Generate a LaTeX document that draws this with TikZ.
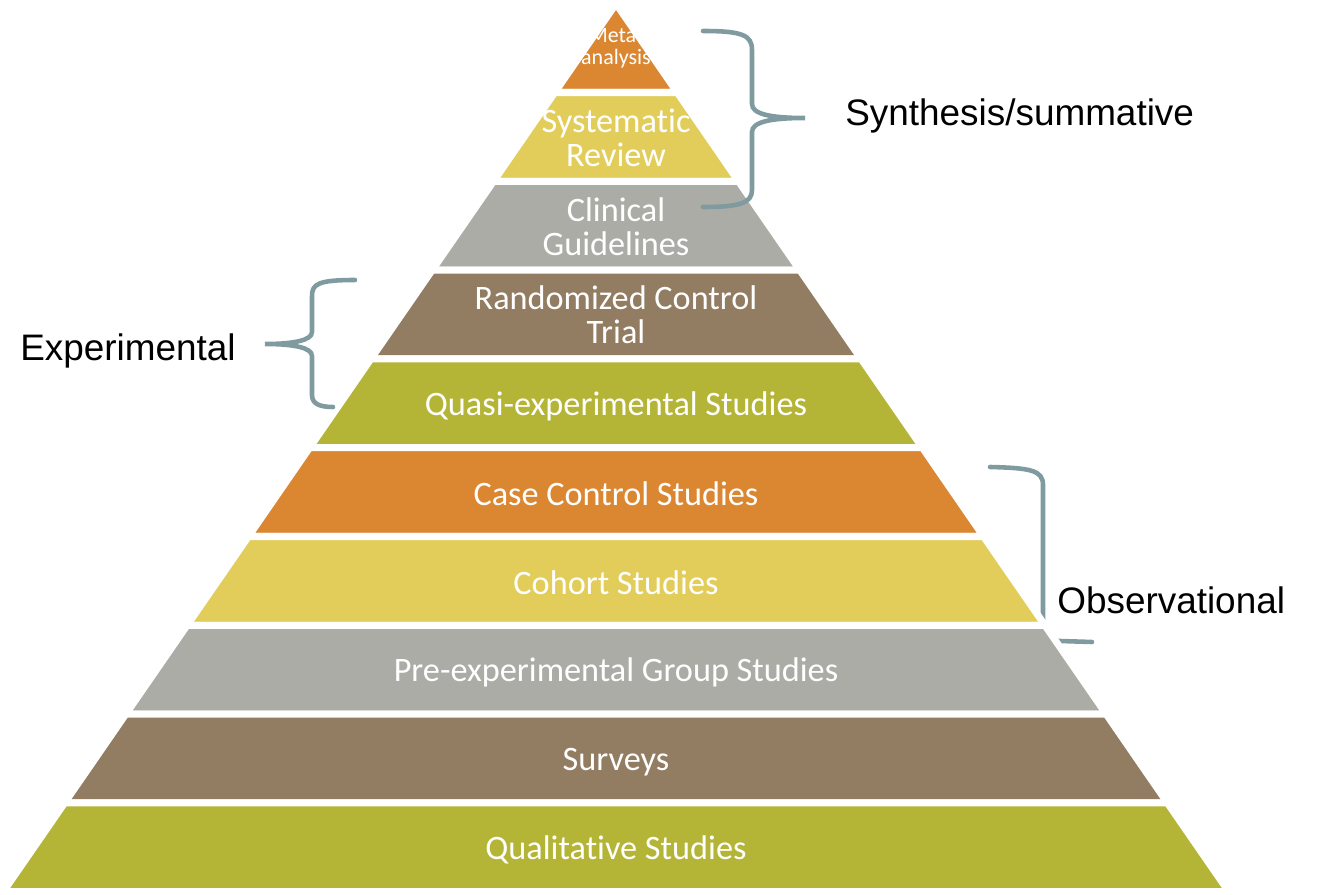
\documentclass[tikz,border=0pt]{standalone}
\usepackage{fontspec}
\setmainfont{Carlito}[Ligatures=NoCommon]
\newfontfamily\lblfont{Liberation Sans}
\usetikzlibrary{positioning}
\definecolor{orng}{RGB}{219,135,50}
\definecolor{ylw}{RGB}{226,205,90}
\definecolor{gry}{RGB}{171,172,166}
\definecolor{brwn}{RGB}{146,124,98}
\definecolor{olv}{RGB}{180,180,55}
\definecolor{brccol}{RGB}{127,155,160}

\begin{document}
\begin{tikzpicture}[x=0.02cm, y=-0.02cm, lay/.style={draw=white, line width=4pt, line join=miter},
		txt/.style={text=white, align=center, inner sep=0pt, font=\fontsize{19.5}{19.5}\selectfont},
		smalltxt/.style={text=white, align=center, inner sep=0pt, font=\fontsize{12.5}{12.5}\selectfont},
		lbl/.style={anchor=base west, inner sep=0pt, font=\lblfont\fontsize{21}{25}\selectfont},
		brc/.style={draw=brccol, line width=2.6pt, line cap=round}]
	\useasboundingbox (0,0) rectangle (1329,895);
	\draw[brc] (990,467) .. controls (1030,468) and (1043,470) .. (1043,485) -- (1043,628) .. controls (1043,636) and (1050,641) .. (1060,641) -- (1092,642);
	\filldraw[lay, fill=orng] (616,3.7) -- (677.3,92.5) -- (554.7,92.5) -- cycle;
	\filldraw[lay, fill=ylw] (554.7,92.5) -- (677.3,92.5) -- (738.5,181.3) -- (493.5,181.3) -- cycle;
	\filldraw[lay, fill=gry] (493.5,181.3) -- (738.5,181.3) -- (799.8,270.1) -- (432.2,270.1) -- cycle;
	\filldraw[lay, fill=brwn] (432.2,270.1) -- (799.8,270.1) -- (861.1,358.9) -- (370.9,358.9) -- cycle;
	\filldraw[lay, fill=olv] (370.9,358.9) -- (861.1,358.9) -- (922.4,447.7) -- (309.6,447.7) -- cycle;
	\filldraw[lay, fill=orng] (309.6,447.7) -- (922.4,447.7) -- (983.6,536.5) -- (248.4,536.5) -- cycle;
	\filldraw[lay, fill=ylw] (248.4,536.5) -- (983.6,536.5) -- (1044.9,625.3) -- (187.1,625.3) -- cycle;
	\filldraw[lay, fill=gry] (187.1,625.3) -- (1044.9,625.3) -- (1106.2,714.1) -- (125.8,714.1) -- cycle;
	\filldraw[lay, fill=brwn] (125.8,714.1) -- (1106.2,714.1) -- (1167.4,802.9) -- (64.6,802.9) -- cycle;
	\filldraw[lay, fill=olv] (64.6,802.9) -- (1167.4,802.9) -- (1228.7,891.7) -- (3.3,891.7) -- cycle;
	\draw[brc] (703,31) .. controls (742,31) and (752,35) .. (752,50) -- (752,104) .. controls (752,114) and (770,118) .. (805,118) .. controls (770,118) and (752,122) .. (752,132) -- (752,190) .. controls (752,203) and (740,207) .. (703,207);
	\draw[brc] (355,280) .. controls (318,280) and (312,284) .. (312,296) -- (312,332) .. controls (312,340) and (295,344) .. (265,344) .. controls (295,344) and (312,348) .. (312,356) -- (312,395) .. controls (312,404) and (320,407) .. (333,407);
	\node[smalltxt] (meta) at (616,48) {Meta-\\analysis};
	\node[txt] (sysrev) at (616,138) {Systematic\\Review};
	\node[txt] (clin) at (616,227) {Clinical\\Guidelines};
	\node[txt] (rct) at (616,315) {Randomized Control\\Trial};
	\node[txt] (quasi) at (616,406) {Quasi-experimental Studies};
	\node[txt] (cc) at (616,494) {Case Control Studies};
	\node[txt] (coh) at (616,583) {Cohort Studies};
	\node[txt] (pre) at (616,672) {Pre-experimental Group Studies};
	\node[txt] (surv) at (616,762) {Surveys};
	\node[txt] (qual) at (616,850) {Qualitative Studies};
	\node[lbl] (syn) at (845,126) {Synthesis/summative};
	\node[lbl] (exp) at (20,360) {Experimental};
	\node[lbl] (obs) at (1057,613) {Observational};
\end{tikzpicture}
\end{document}
